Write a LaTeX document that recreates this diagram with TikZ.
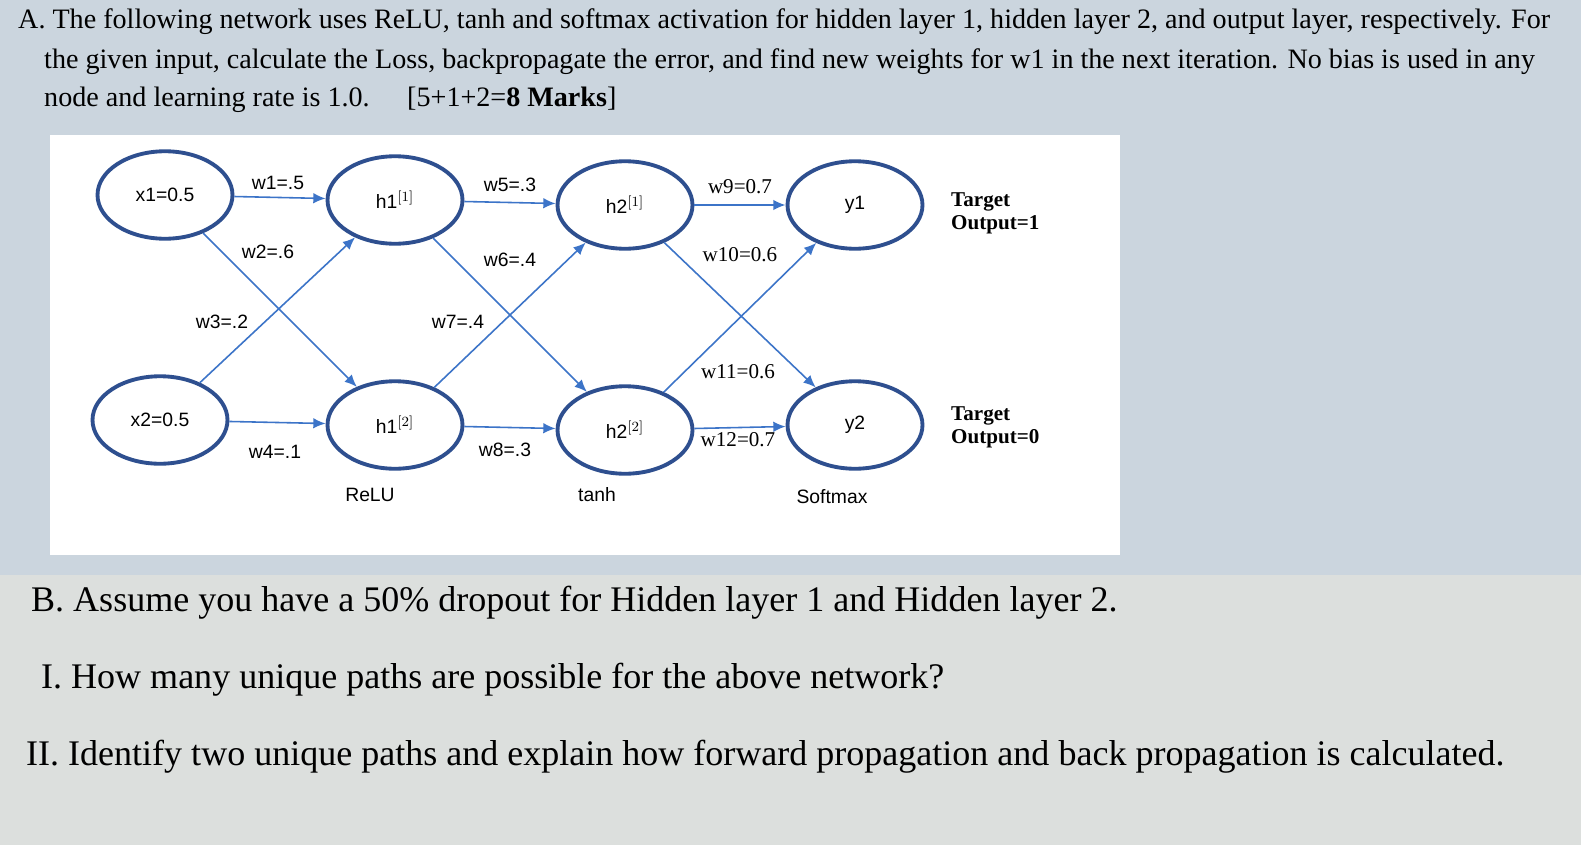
\documentclass[tikz,border=0pt]{standalone}
\usepackage{fontspec}
\setmainfont{Liberation Serif}
\setsansfont{Liberation Sans}
\usetikzlibrary{shapes.geometric,arrows.meta}
\definecolor{bgtop}{HTML}{CBD5DE}
\definecolor{bgbot}{HTML}{DCDFDD}
\definecolor{nodeblue}{HTML}{2E4F8F}
\definecolor{edgeblue}{HTML}{3C74C8}
\begin{document}
\begin{tikzpicture}[x=0.02cm,y=-0.02cm,
  neuron/.style={ellipse,draw=nodeblue,line width=2.2pt,minimum width=2.7cm,minimum height=1.75cm,font=\sffamily\fontsize{11}{12}\selectfont},
  conn/.style={draw=edgeblue,line width=0.9pt,-{Latex[length=7pt,width=6pt]}},
  wl/.style={font=\sffamily\fontsize{11}{12}\selectfont},
  sl/.style={font=\fontsize{12}{13}\selectfont\bfseries,align=left},
  qt/.style={anchor=west,font=\fontsize{16}{17}\selectfont},
  qb/.style={anchor=west,font=\fontsize{20.5}{22}\selectfont}]
\useasboundingbox (0,0) rectangle (1581,845);
\fill[bgtop] (0,0) rectangle (1581,575);
\fill[bgbot] (0,575) rectangle (1581,845);
\fill[white] (50,135) rectangle (1120,555);
% question text
\node[qt] (ta1) at (12,22) {A. The following network uses ReLU, tanh and softmax activation for hidden layer 1, hidden layer 2, and output layer, respectively. For};
\node[qt] (ta2) at (38,62) {the given input, calculate the Loss, backpropagate the error, and find new weights for w1 in the next iteration. No bias is used in any};
\node[qt] (ta3) at (38,100) {node and learning rate is 1.0. \quad [5+1+2=\textbf{8 Marks}]};
\node[qb] (tb) at (25,603) {B. Assume you have a 50\% dropout for Hidden layer 1 and Hidden layer 2.};
\node[qb] (tb1) at (35,680) {I. How many unique paths are possible for the above network?};
\node[qb] (tb2) at (20,757) {II. Identify two unique paths and explain how forward propagation and back propagation is calculated.};
% nodes
\node[neuron] (x1) at (165,195) {x1=0.5};
\node[neuron] (h11) at (395,200) {h1$^{\scriptstyle[1]}$};
\node[neuron] (h21) at (625,205) {h2$^{\scriptstyle[1]}$};
\node[neuron] (y1) at (855,205) {y1};
\node[neuron] (x2) at (160,420) {x2=0.5};
\node[neuron] (h12) at (395,425) {h1$^{\scriptstyle[2]}$};
\node[neuron] (h22) at (625,430) {h2$^{\scriptstyle[2]}$};
\node[neuron] (y2) at (855,425) {y2};
% connectors
\draw[conn] (x1) -- (h11);
\draw[conn] (x1) -- (h12);
\draw[conn] (x2) -- (h11);
\draw[conn] (x2) -- (h12);
\draw[conn] (h11) -- (h21);
\draw[conn] (h11) -- (h22);
\draw[conn] (h12) -- (h21);
\draw[conn] (h12) -- (h22);
\draw[conn] (h21) -- (y1);
\draw[conn] (h21) -- (y2);
\draw[conn] (h22) -- (y1);
\draw[conn] (h22) -- (y2);
% weight labels
\node[wl] (lw1) at (278,183) {w1=.5};
\node[wl] (lw2) at (268,252) {w2=.6};
\node[wl] (lw3) at (222,322) {w3=.2};
\node[wl] (lw4) at (275,452) {w4=.1};
\node[wl] (lw5) at (510,185) {w5=.3};
\node[wl] (lw6) at (510,260) {w6=.4};
\node[wl] (lw7) at (458,322) {w7=.4};
\node[wl] (lw8) at (505,450) {w8=.3};
\node[wl,font=\fontsize{12}{13}\selectfont] (lw9) at (740,187) {w9=0.7};
\node[wl,font=\fontsize{12}{13}\selectfont] (lw10) at (740,255) {w10=0.6};
\node[wl,font=\fontsize{12}{13}\selectfont] (lw11) at (738,372) {w11=0.6};
\node[wl,font=\fontsize{12}{13}\selectfont] (lw12) at (738,440) {w12=0.7};
% side labels
\node[sl,anchor=west] (t1) at (945,213) {Target\\Output=1};
\node[sl,anchor=west] (t2) at (945,427) {Target\\Output=0};
\node[wl] (relu) at (370,495) {ReLU};
\node[wl] (tanh) at (597,495) {tanh};
\node[wl] (soft) at (832,497) {Softmax};
\end{tikzpicture}
\end{document}
